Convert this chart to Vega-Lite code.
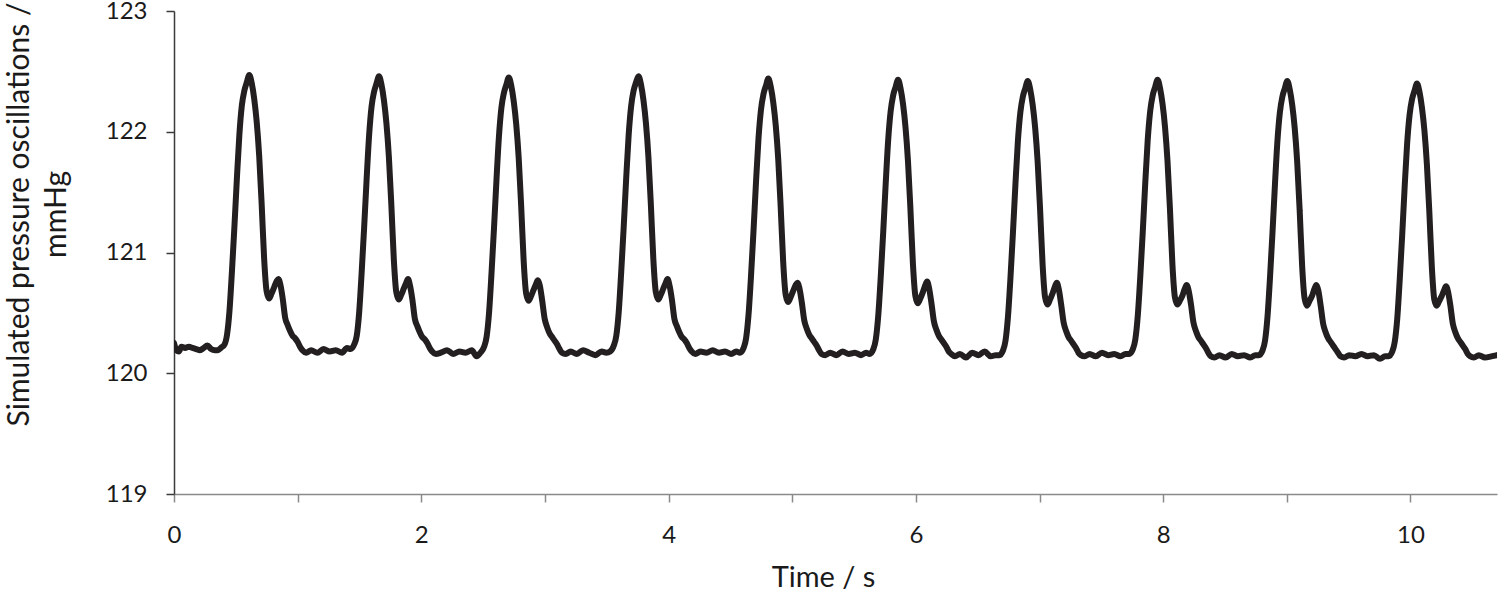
{
  "$schema": "https://vega.github.io/schema/vega-lite/v6.json",
  "width": 1323,
  "height": 483,
  "autosize": {"type": "none"},
  "padding": {"left": 174, "top": 11, "right": 3, "bottom": 97},
  "background": "white",
  "config": {"view": {"stroke": null}},
  "data": {"values": [
    {"t":0,"p":120.25},{"t":0.02,"p":120.19},{"t":0.04,"p":120.18},{"t":0.06,"p":120.22},{"t":0.09,"p":120.21},{"t":0.12,"p":120.22},{"t":0.15,"p":120.21},{"t":0.18,"p":120.2},{"t":0.21,"p":120.19},{"t":0.24,"p":120.21},{"t":0.27,"p":120.23},{"t":0.3,"p":120.2},{"t":0.33,"p":120.19},{"t":0.355,"p":120.19},
    {"t":0.379,"p":120.21},{"t":0.409,"p":120.24},{"t":0.429,"p":120.32},{"t":0.449,"p":120.52},{"t":0.469,"p":120.85},{"t":0.489,"p":121.22},{"t":0.509,"p":121.62},{"t":0.529,"p":121.98},{"t":0.549,"p":122.22},{"t":0.569,"p":122.34},{"t":0.589,"p":122.41},{"t":0.609,"p":122.47},{"t":0.629,"p":122.4},{"t":0.649,"p":122.27},{"t":0.669,"p":122.08},{"t":0.689,"p":121.8},{"t":0.709,"p":121.4},{"t":0.729,"p":120.95},{"t":0.749,"p":120.68},{"t":0.769,"p":120.62},{"t":0.789,"p":120.66},{"t":0.809,"p":120.71},{"t":0.829,"p":120.76},{"t":0.844,"p":120.78},{"t":0.859,"p":120.74},{"t":0.879,"p":120.62},{"t":0.899,"p":120.46},{"t":0.919,"p":120.4},{"t":0.939,"p":120.35},{"t":0.959,"p":120.31},{"t":0.979,"p":120.29},{"t":0.999,"p":120.26},{"t":1.019,"p":120.22},{"t":1.039,"p":120.19},{"t":1.069,"p":120.17},{"t":1.109,"p":120.19},{"t":1.159,"p":120.17},{"t":1.209,"p":120.2},{"t":1.259,"p":120.18},{"t":1.309,"p":120.19},{"t":1.359,"p":120.17},{"t":1.399,"p":120.21},
    {"t":1.428,"p":120.2},{"t":1.458,"p":120.24},{"t":1.478,"p":120.31},{"t":1.498,"p":120.51},{"t":1.518,"p":120.84},{"t":1.538,"p":121.21},{"t":1.558,"p":121.61},{"t":1.578,"p":121.97},{"t":1.598,"p":122.21},{"t":1.618,"p":122.33},{"t":1.638,"p":122.4},{"t":1.658,"p":122.46},{"t":1.678,"p":122.39},{"t":1.698,"p":122.26},{"t":1.718,"p":122.07},{"t":1.738,"p":121.79},{"t":1.758,"p":121.39},{"t":1.778,"p":120.94},{"t":1.798,"p":120.67},{"t":1.818,"p":120.61},{"t":1.838,"p":120.65},{"t":1.858,"p":120.7},{"t":1.878,"p":120.75},{"t":1.893,"p":120.78},{"t":1.908,"p":120.73},{"t":1.928,"p":120.61},{"t":1.948,"p":120.45},{"t":1.968,"p":120.39},{"t":1.988,"p":120.34},{"t":2.008,"p":120.3},{"t":2.028,"p":120.28},{"t":2.048,"p":120.25},{"t":2.068,"p":120.21},{"t":2.088,"p":120.18},{"t":2.118,"p":120.16},{"t":2.158,"p":120.17},{"t":2.208,"p":120.19},{"t":2.258,"p":120.16},{"t":2.308,"p":120.18},{"t":2.358,"p":120.17},{"t":2.408,"p":120.19},{"t":2.448,"p":120.14},
    {"t":2.478,"p":120.17},{"t":2.508,"p":120.22},{"t":2.528,"p":120.3},{"t":2.548,"p":120.5},{"t":2.568,"p":120.83},{"t":2.588,"p":121.2},{"t":2.608,"p":121.6},{"t":2.628,"p":121.96},{"t":2.648,"p":122.2},{"t":2.668,"p":122.32},{"t":2.688,"p":122.39},{"t":2.708,"p":122.45},{"t":2.728,"p":122.38},{"t":2.748,"p":122.25},{"t":2.768,"p":122.06},{"t":2.788,"p":121.78},{"t":2.808,"p":121.38},{"t":2.828,"p":120.93},{"t":2.848,"p":120.66},{"t":2.868,"p":120.6},{"t":2.888,"p":120.64},{"t":2.908,"p":120.69},{"t":2.928,"p":120.74},{"t":2.943,"p":120.77},{"t":2.958,"p":120.73},{"t":2.978,"p":120.6},{"t":2.998,"p":120.45},{"t":3.018,"p":120.38},{"t":3.038,"p":120.33},{"t":3.058,"p":120.3},{"t":3.078,"p":120.27},{"t":3.098,"p":120.24},{"t":3.118,"p":120.2},{"t":3.138,"p":120.17},{"t":3.168,"p":120.16},{"t":3.208,"p":120.18},{"t":3.258,"p":120.16},{"t":3.308,"p":120.19},{"t":3.358,"p":120.17},{"t":3.408,"p":120.15},{"t":3.458,"p":120.18},{"t":3.498,"p":120.17},
    {"t":3.527,"p":120.18},{"t":3.557,"p":120.23},{"t":3.577,"p":120.31},{"t":3.597,"p":120.51},{"t":3.617,"p":120.84},{"t":3.637,"p":121.21},{"t":3.657,"p":121.61},{"t":3.677,"p":121.97},{"t":3.697,"p":122.21},{"t":3.717,"p":122.34},{"t":3.737,"p":122.41},{"t":3.757,"p":122.46},{"t":3.777,"p":122.39},{"t":3.797,"p":122.26},{"t":3.817,"p":122.07},{"t":3.837,"p":121.79},{"t":3.857,"p":121.39},{"t":3.877,"p":120.94},{"t":3.897,"p":120.67},{"t":3.917,"p":120.61},{"t":3.937,"p":120.65},{"t":3.957,"p":120.7},{"t":3.977,"p":120.75},{"t":3.992,"p":120.78},{"t":4.007,"p":120.73},{"t":4.027,"p":120.61},{"t":4.047,"p":120.45},{"t":4.067,"p":120.39},{"t":4.087,"p":120.34},{"t":4.107,"p":120.3},{"t":4.127,"p":120.28},{"t":4.147,"p":120.25},{"t":4.167,"p":120.21},{"t":4.187,"p":120.18},{"t":4.217,"p":120.16},{"t":4.257,"p":120.18},{"t":4.307,"p":120.17},{"t":4.357,"p":120.19},{"t":4.407,"p":120.17},{"t":4.457,"p":120.18},{"t":4.507,"p":120.16},{"t":4.547,"p":120.18},
    {"t":4.577,"p":120.17},{"t":4.607,"p":120.21},{"t":4.627,"p":120.29},{"t":4.647,"p":120.49},{"t":4.667,"p":120.81},{"t":4.687,"p":121.18},{"t":4.707,"p":121.58},{"t":4.727,"p":121.94},{"t":4.747,"p":122.18},{"t":4.767,"p":122.31},{"t":4.787,"p":122.38},{"t":4.807,"p":122.44},{"t":4.827,"p":122.37},{"t":4.847,"p":122.24},{"t":4.867,"p":122.05},{"t":4.887,"p":121.77},{"t":4.907,"p":121.37},{"t":4.927,"p":120.92},{"t":4.947,"p":120.65},{"t":4.967,"p":120.59},{"t":4.987,"p":120.63},{"t":5.007,"p":120.68},{"t":5.027,"p":120.73},{"t":5.042,"p":120.75},{"t":5.057,"p":120.71},{"t":5.077,"p":120.59},{"t":5.097,"p":120.44},{"t":5.117,"p":120.37},{"t":5.137,"p":120.32},{"t":5.157,"p":120.29},{"t":5.177,"p":120.26},{"t":5.197,"p":120.23},{"t":5.217,"p":120.19},{"t":5.237,"p":120.16},{"t":5.267,"p":120.15},{"t":5.307,"p":120.17},{"t":5.357,"p":120.15},{"t":5.407,"p":120.18},{"t":5.457,"p":120.16},{"t":5.507,"p":120.17},{"t":5.557,"p":120.15},{"t":5.597,"p":120.17},
    {"t":5.626,"p":120.16},{"t":5.656,"p":120.2},{"t":5.676,"p":120.28},{"t":5.696,"p":120.48},{"t":5.716,"p":120.8},{"t":5.736,"p":121.17},{"t":5.756,"p":121.57},{"t":5.776,"p":121.93},{"t":5.796,"p":122.17},{"t":5.816,"p":122.3},{"t":5.836,"p":122.37},{"t":5.856,"p":122.43},{"t":5.876,"p":122.36},{"t":5.896,"p":122.23},{"t":5.916,"p":122.04},{"t":5.936,"p":121.76},{"t":5.956,"p":121.36},{"t":5.976,"p":120.91},{"t":5.996,"p":120.64},{"t":6.016,"p":120.58},{"t":6.036,"p":120.62},{"t":6.056,"p":120.67},{"t":6.076,"p":120.73},{"t":6.091,"p":120.76},{"t":6.106,"p":120.71},{"t":6.126,"p":120.58},{"t":6.146,"p":120.43},{"t":6.166,"p":120.36},{"t":6.186,"p":120.31},{"t":6.206,"p":120.28},{"t":6.226,"p":120.25},{"t":6.246,"p":120.22},{"t":6.266,"p":120.18},{"t":6.286,"p":120.16},{"t":6.316,"p":120.14},{"t":6.356,"p":120.16},{"t":6.406,"p":120.13},{"t":6.456,"p":120.17},{"t":6.506,"p":120.15},{"t":6.556,"p":120.18},{"t":6.606,"p":120.14},{"t":6.646,"p":120.15},
    {"t":6.675,"p":120.15},{"t":6.705,"p":120.19},{"t":6.725,"p":120.27},{"t":6.745,"p":120.47},{"t":6.765,"p":120.79},{"t":6.785,"p":121.16},{"t":6.805,"p":121.56},{"t":6.825,"p":121.92},{"t":6.845,"p":122.16},{"t":6.865,"p":122.29},{"t":6.885,"p":122.36},{"t":6.905,"p":122.42},{"t":6.925,"p":122.35},{"t":6.945,"p":122.22},{"t":6.965,"p":122.03},{"t":6.985,"p":121.75},{"t":7.005,"p":121.35},{"t":7.025,"p":120.9},{"t":7.045,"p":120.63},{"t":7.065,"p":120.57},{"t":7.085,"p":120.61},{"t":7.105,"p":120.66},{"t":7.125,"p":120.72},{"t":7.14,"p":120.75},{"t":7.155,"p":120.7},{"t":7.175,"p":120.57},{"t":7.195,"p":120.42},{"t":7.215,"p":120.35},{"t":7.235,"p":120.3},{"t":7.255,"p":120.27},{"t":7.275,"p":120.24},{"t":7.295,"p":120.21},{"t":7.315,"p":120.17},{"t":7.335,"p":120.15},{"t":7.365,"p":120.14},{"t":7.405,"p":120.16},{"t":7.455,"p":120.14},{"t":7.505,"p":120.17},{"t":7.555,"p":120.15},{"t":7.605,"p":120.16},{"t":7.655,"p":120.14},{"t":7.695,"p":120.16},
    {"t":7.725,"p":120.16},{"t":7.755,"p":120.2},{"t":7.775,"p":120.28},{"t":7.795,"p":120.48},{"t":7.815,"p":120.8},{"t":7.835,"p":121.17},{"t":7.855,"p":121.57},{"t":7.875,"p":121.93},{"t":7.895,"p":122.17},{"t":7.915,"p":122.3},{"t":7.935,"p":122.37},{"t":7.955,"p":122.43},{"t":7.975,"p":122.36},{"t":7.995,"p":122.23},{"t":8.015,"p":122.04},{"t":8.035,"p":121.76},{"t":8.055,"p":121.36},{"t":8.075,"p":120.9},{"t":8.095,"p":120.63},{"t":8.115,"p":120.57},{"t":8.135,"p":120.6},{"t":8.155,"p":120.64},{"t":8.175,"p":120.7},{"t":8.19,"p":120.73},{"t":8.205,"p":120.69},{"t":8.225,"p":120.57},{"t":8.245,"p":120.42},{"t":8.265,"p":120.35},{"t":8.285,"p":120.3},{"t":8.305,"p":120.27},{"t":8.325,"p":120.24},{"t":8.345,"p":120.21},{"t":8.365,"p":120.17},{"t":8.385,"p":120.14},{"t":8.415,"p":120.13},{"t":8.455,"p":120.15},{"t":8.505,"p":120.13},{"t":8.555,"p":120.16},{"t":8.605,"p":120.14},{"t":8.655,"p":120.15},{"t":8.705,"p":120.13},{"t":8.745,"p":120.15},
    {"t":8.774,"p":120.15},{"t":8.804,"p":120.19},{"t":8.824,"p":120.27},{"t":8.844,"p":120.47},{"t":8.864,"p":120.79},{"t":8.884,"p":121.16},{"t":8.904,"p":121.56},{"t":8.924,"p":121.92},{"t":8.944,"p":122.16},{"t":8.964,"p":122.29},{"t":8.984,"p":122.36},{"t":9.004,"p":122.42},{"t":9.024,"p":122.35},{"t":9.044,"p":122.22},{"t":9.064,"p":122.03},{"t":9.084,"p":121.75},{"t":9.104,"p":121.35},{"t":9.124,"p":120.89},{"t":9.144,"p":120.62},{"t":9.164,"p":120.56},{"t":9.184,"p":120.6},{"t":9.204,"p":120.64},{"t":9.224,"p":120.7},{"t":9.239,"p":120.73},{"t":9.254,"p":120.69},{"t":9.274,"p":120.56},{"t":9.294,"p":120.41},{"t":9.314,"p":120.34},{"t":9.334,"p":120.29},{"t":9.354,"p":120.26},{"t":9.374,"p":120.23},{"t":9.394,"p":120.2},{"t":9.414,"p":120.17},{"t":9.434,"p":120.14},{"t":9.464,"p":120.13},{"t":9.504,"p":120.15},{"t":9.554,"p":120.14},{"t":9.604,"p":120.16},{"t":9.654,"p":120.14},{"t":9.704,"p":120.15},{"t":9.754,"p":120.12},{"t":9.794,"p":120.14},
    {"t":9.823,"p":120.14},{"t":9.853,"p":120.18},{"t":9.873,"p":120.26},{"t":9.893,"p":120.45},{"t":9.913,"p":120.77},{"t":9.933,"p":121.14},{"t":9.953,"p":121.54},{"t":9.973,"p":121.9},{"t":9.993,"p":122.14},{"t":10.013,"p":122.27},{"t":10.033,"p":122.34},{"t":10.053,"p":122.4},{"t":10.073,"p":122.33},{"t":10.093,"p":122.2},{"t":10.113,"p":122.01},{"t":10.133,"p":121.73},{"t":10.153,"p":121.33},{"t":10.173,"p":120.88},{"t":10.193,"p":120.61},{"t":10.213,"p":120.56},{"t":10.233,"p":120.6},{"t":10.253,"p":120.64},{"t":10.273,"p":120.69},{"t":10.288,"p":120.72},{"t":10.303,"p":120.68},{"t":10.323,"p":120.56},{"t":10.343,"p":120.41},{"t":10.363,"p":120.34},{"t":10.383,"p":120.29},{"t":10.403,"p":120.26},{"t":10.423,"p":120.23},{"t":10.443,"p":120.2},{"t":10.463,"p":120.16},{"t":10.483,"p":120.14},{"t":10.513,"p":120.13},{"t":10.553,"p":120.15},{"t":10.603,"p":120.13},{"t":10.653,"p":120.14},{"t":10.7,"p":120.15}
  ]},
  "mark": {"type": "line", "color": "#231f20", "strokeWidth": 6, "interpolate": "monotone", "strokeJoin": "round", "strokeCap": "round", "clip": true},
  "encoding": {
    "x": {
      "field": "t", "type": "quantitative",
      "scale": {"domain": [0, 10.7], "nice": false, "zero": false},
      "axis": {
        "title": "Time / s",
        "values": [0,1,2,3,4,5,6,7,8,9,10],
        "labelExpr": "datum.value % 2 === 0 ? datum.label : ''",
        "grid": false,
        "domainColor": "#8a8a8a", "domainWidth": 1.5,
        "tickColor": "#8a8a8a", "tickWidth": 1.5, "tickSize": 8,
        "labelFont": "Lato", "labelFontSize": 24, "labelColor": "#1a1a1a",
        "labelBaseline": "alphabetic", "labelPadding": 40, "labelFlush": false, "labelOverlap": false,
        "titleFont": "Lato", "titleFontSize": 29, "titleFontWeight": "normal", "titleColor": "#1a1a1a",
        "titleX": 649, "titleY": 92, "titleBaseline": "alphabetic", "titleAlign": "center"
      }
    },
    "y": {
      "field": "p", "type": "quantitative",
      "scale": {"domain": [119, 123], "nice": false, "zero": false},
      "axis": {
        "title": ["Simulated pressure oscillations /", "mmHg"],
        "values": [119,120,121,122,123],
        "grid": false,
        "domainColor": "#3a3a3a", "domainWidth": 1.5,
        "tickColor": "#3a3a3a", "tickWidth": 1.5, "tickSize": 8,
        "labelFont": "Lato", "labelFontSize": 24, "labelColor": "#1a1a1a",
        "labelPadding": 19, "labelFlush": false, "labelOverlap": false,
        "titleFont": "Lato", "titleFontSize": 30, "titleFontWeight": "normal", "titleColor": "#1a1a1a",
        "titleAngle": -90, "titleX": -170, "titleY": 203, "titleAlign": "center", "titleBaseline": "top", "titleLineHeight": 37
      }
    }
  }
}
